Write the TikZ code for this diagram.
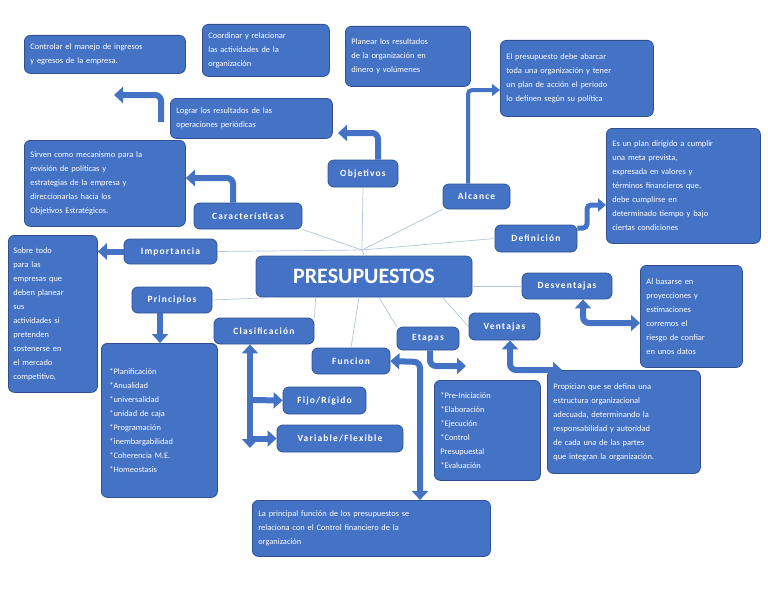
\documentclass[tikz,border=0pt]{standalone}
\usepackage{fontspec}
\setmainfont{Carlito}
\newfontfamily\lblfont[LetterSpace=12]{Carlito}
\usetikzlibrary{arrows.meta}
\definecolor{bx}{HTML}{4472C4}
\definecolor{bd}{HTML}{2F528F}
\definecolor{ln}{HTML}{B4C3DE}
\begin{document}
\begin{tikzpicture}[x=1pt,y=-1pt,
 box/.style={fill=bx,draw=bd,line width=0.8pt,rounded corners=6pt,text=white},
 txt/.style={box,align=left,font=\fontsize{8.4}{14}\selectfont,inner sep=6pt},
 lbl/.style={box,font=\lblfont\bfseries\fontsize{9.5}{11}\selectfont,inner sep=0pt},
 bar/.style={draw=bx,line width=6pt,rounded corners=6pt,-{Triangle[width=16pt,length=9pt]}},
 bbar/.style={draw=bx,line width=6pt,rounded corners=6pt,{Triangle[width=16pt,length=9pt]}-{Triangle[width=16pt,length=9pt]}},
 cl/.style={draw=ln,line width=0.7pt}]
\useasboundingbox (0,0) rectangle (768,594);
% text boxes
\node[txt,minimum width=161,minimum height=38,text width=149,anchor=north west] (controlar) at (24,35) {Controlar el manejo de ingresos\\y egresos de la empresa.};
\node[txt,minimum width=127,minimum height=52,text width=115,anchor=north west] (coordinar) at (202,24) {Coordinar y relacionar\\las actividades de la\\organización};
\node[txt,minimum width=125,minimum height=60,text width=113,anchor=north west] (planear) at (345,26) {Planear los resultados\\de la organización en\\dinero y volúmenes};
\node[txt,minimum width=153,minimum height=76,text width=141,anchor=north west] (abarcar) at (500,40) {El presupuesto debe abarcar\\toda una organización y tener\\un plan de acción el periodo\\lo definen según su política};
\node[txt,minimum width=162,minimum height=40,text width=150,anchor=north west] (lograr) at (170,98) {Lograr los resultados de las\\operaciones periódicas};
\node[txt,minimum width=161,minimum height=86,text width=149,anchor=north west] (sirven) at (24,140) {Sirven como mecanismo para la\\revisión de políticas y\\estrategias de la empresa y\\direccionarlas hacia los\\Objetivos Estratégicos.};
\node[txt,minimum width=154,minimum height=115,text width=142,anchor=north west] (esplan) at (606,128) {Es un plan dirigido a cumplir\\una meta prevista,\\expresada en valores y\\términos financieros que,\\debe cumplirse en\\determinado tiempo y bajo\\ciertas condiciones};
\node[txt,minimum width=89,minimum height=157,text width=79,anchor=north west,inner sep=5pt] (sobre) at (8,235) {Sobre todo\\para las\\empresas que\\deben planear\\sus\\actividades si\\pretenden\\sostenerse en\\el mercado\\competitivo,};
\node[txt,minimum width=102,minimum height=102,text width=90,anchor=north west] (albasarse) at (640,265) {Al basarse en\\proyecciones y\\estimaciones\\corremos el\\riesgo de confiar\\en unos datos};
\node[txt,minimum width=112,minimum height=154,text width=100,anchor=north west,inner sep=8pt] (lista) at (101,343) {{*}Planificación\\{*}Anualidad\\{*}universalidad\\{*}unidad de caja\\{*}Programación\\{*}inembargabilidad\\{*}Coherencia M.E.\\{*}Homeostasis};
\node[txt,minimum width=106,minimum height=100,text width=94,anchor=north west] (etlist) at (434,380) {{*}Pre-Iniciación\\{*}Elaboración\\{*}Ejecución\\{*}Control\\Presupuestal\\{*}Evaluación};
\node[txt,minimum width=153,minimum height=103,text width=141,anchor=north west,inner sep=6pt] (propician) at (547,370) {Propician que se defina una\\estructura organizacional\\adecuada, determinando la\\responsabilidad y autoridad\\de cada una de las partes\\que integran la organización.};
\node[txt,minimum width=238,minimum height=56,text width=226,anchor=north west] (principal) at (252,500) {La principal función de los presupuestos se\\relaciona con el Control financiero de la\\organización};
% labels
\node[lbl,minimum width=70,minimum height=27] (objetivos) at (363,173.5) {Objetivos};
\node[lbl,minimum width=108,minimum height=26] (caract) at (248,216) {Características};
\node[lbl,minimum width=67,minimum height=25] (alcance) at (476.5,196.5) {Alcance};
\node[lbl,minimum width=82,minimum height=27] (definicion) at (536,238.5) {Definición};
\node[lbl,minimum width=93,minimum height=25] (importancia) at (170.5,251.5) {Importancia};
\node[box,minimum width=216,minimum height=41,font=\bfseries\fontsize{22}{24}\selectfont,inner sep=0pt] (pres) at (364,276.5) {PRESUPUESTOS};
\node[lbl,minimum width=90,minimum height=26] (desv) at (567,286) {Desventajas};
\node[lbl,minimum width=80,minimum height=26] (principios) at (172,300) {Principios};
\node[lbl,minimum width=100,minimum height=26] (clasif) at (264,331) {Clasificación};
\node[lbl,minimum width=71,minimum height=27] (ventajas) at (504.5,326.5) {Ventajas};
\node[lbl,minimum width=62,minimum height=23] (etapas) at (428,338.5) {Etapas};
\node[lbl,minimum width=78,minimum height=26] (funcion) at (351,361) {Funcion};
\node[lbl,minimum width=83,minimum height=27] (fijo) at (324.5,400.5) {Fijo/Rígido};
\node[lbl,minimum width=126,minimum height=27] (variable) at (340,438.5) {Variable/Flexible};
% center lines
\coordinate (hub) at (362,250);
\draw[cl] (hub) -- (objetivos.south);
\draw[cl] (hub) -- (alcance.south west);
\draw[cl] (hub) -- (definicion.west);
\draw[cl] (hub) -- (caract.south east);
\draw[cl] (hub) -- (importancia.east);
\draw[cl] (hub) -- (pres.north);
\draw[cl] (pres.east |- desv.west) -- (desv.west);
\draw[cl] (pres.south west) ++(20,0) -- (principios.east);
\draw[cl] (pres.south west) ++(60,0) -- (clasif.north east);
\draw[cl] (pres.south) ++(-5,0) -- (funcion.north);
\draw[cl] (pres.south) ++(15,0) -- (etapas.north west);
\draw[cl] (pres.south east) ++(-30,0) -- (ventajas.west);
% block arrows
\coordinate (a1) at (161,122); \coordinate (a1e) at (114,95);
\draw[bar] (a1) |- (a1e);
\draw[bar] (objetivos.north -| 378,0) |- (338,133);
\draw[bar] (caract.north -| 233,0) |- (sirven.east |- 0,178);
\draw[draw=bx,line width=4pt,rounded corners=4pt,-{Triangle[width=12pt,length=8pt]}] (alcance.north -| 468,0) |- (abarcar.west |- 0,90);
\draw[draw=bx,line width=5pt,rounded corners=4pt,-{Triangle[width=13pt,length=8pt]}] (definicion.east |- 0,228) -| (587,205) -- (esplan.west |- 0,205);
\draw[bar] (importancia.west) -- (sobre.east |- importancia.west);
\draw[bar] (principios.south -| 160,0) -- (lista.north -| 160,0);
\draw[bbar] (clasif.south -| 250,0) -- (250,448);
\draw[bar] (250,400) -- (fijo.west);
\draw[bar] (250,438.5) -- (variable.west);
\draw[bbar] (principal.north -| 420,0) -- (420,362) -- (funcion.east);
\draw[bar] (etapas.south -| 430,0) |- (466,366);
\draw[bbar] (ventajas.south -| 510,0) |- (propician.north -| 562,0);
\draw[bbar] (desv.south -| 583,0) |- (albasarse.west |- 0,323);
\end{tikzpicture}
\end{document}
